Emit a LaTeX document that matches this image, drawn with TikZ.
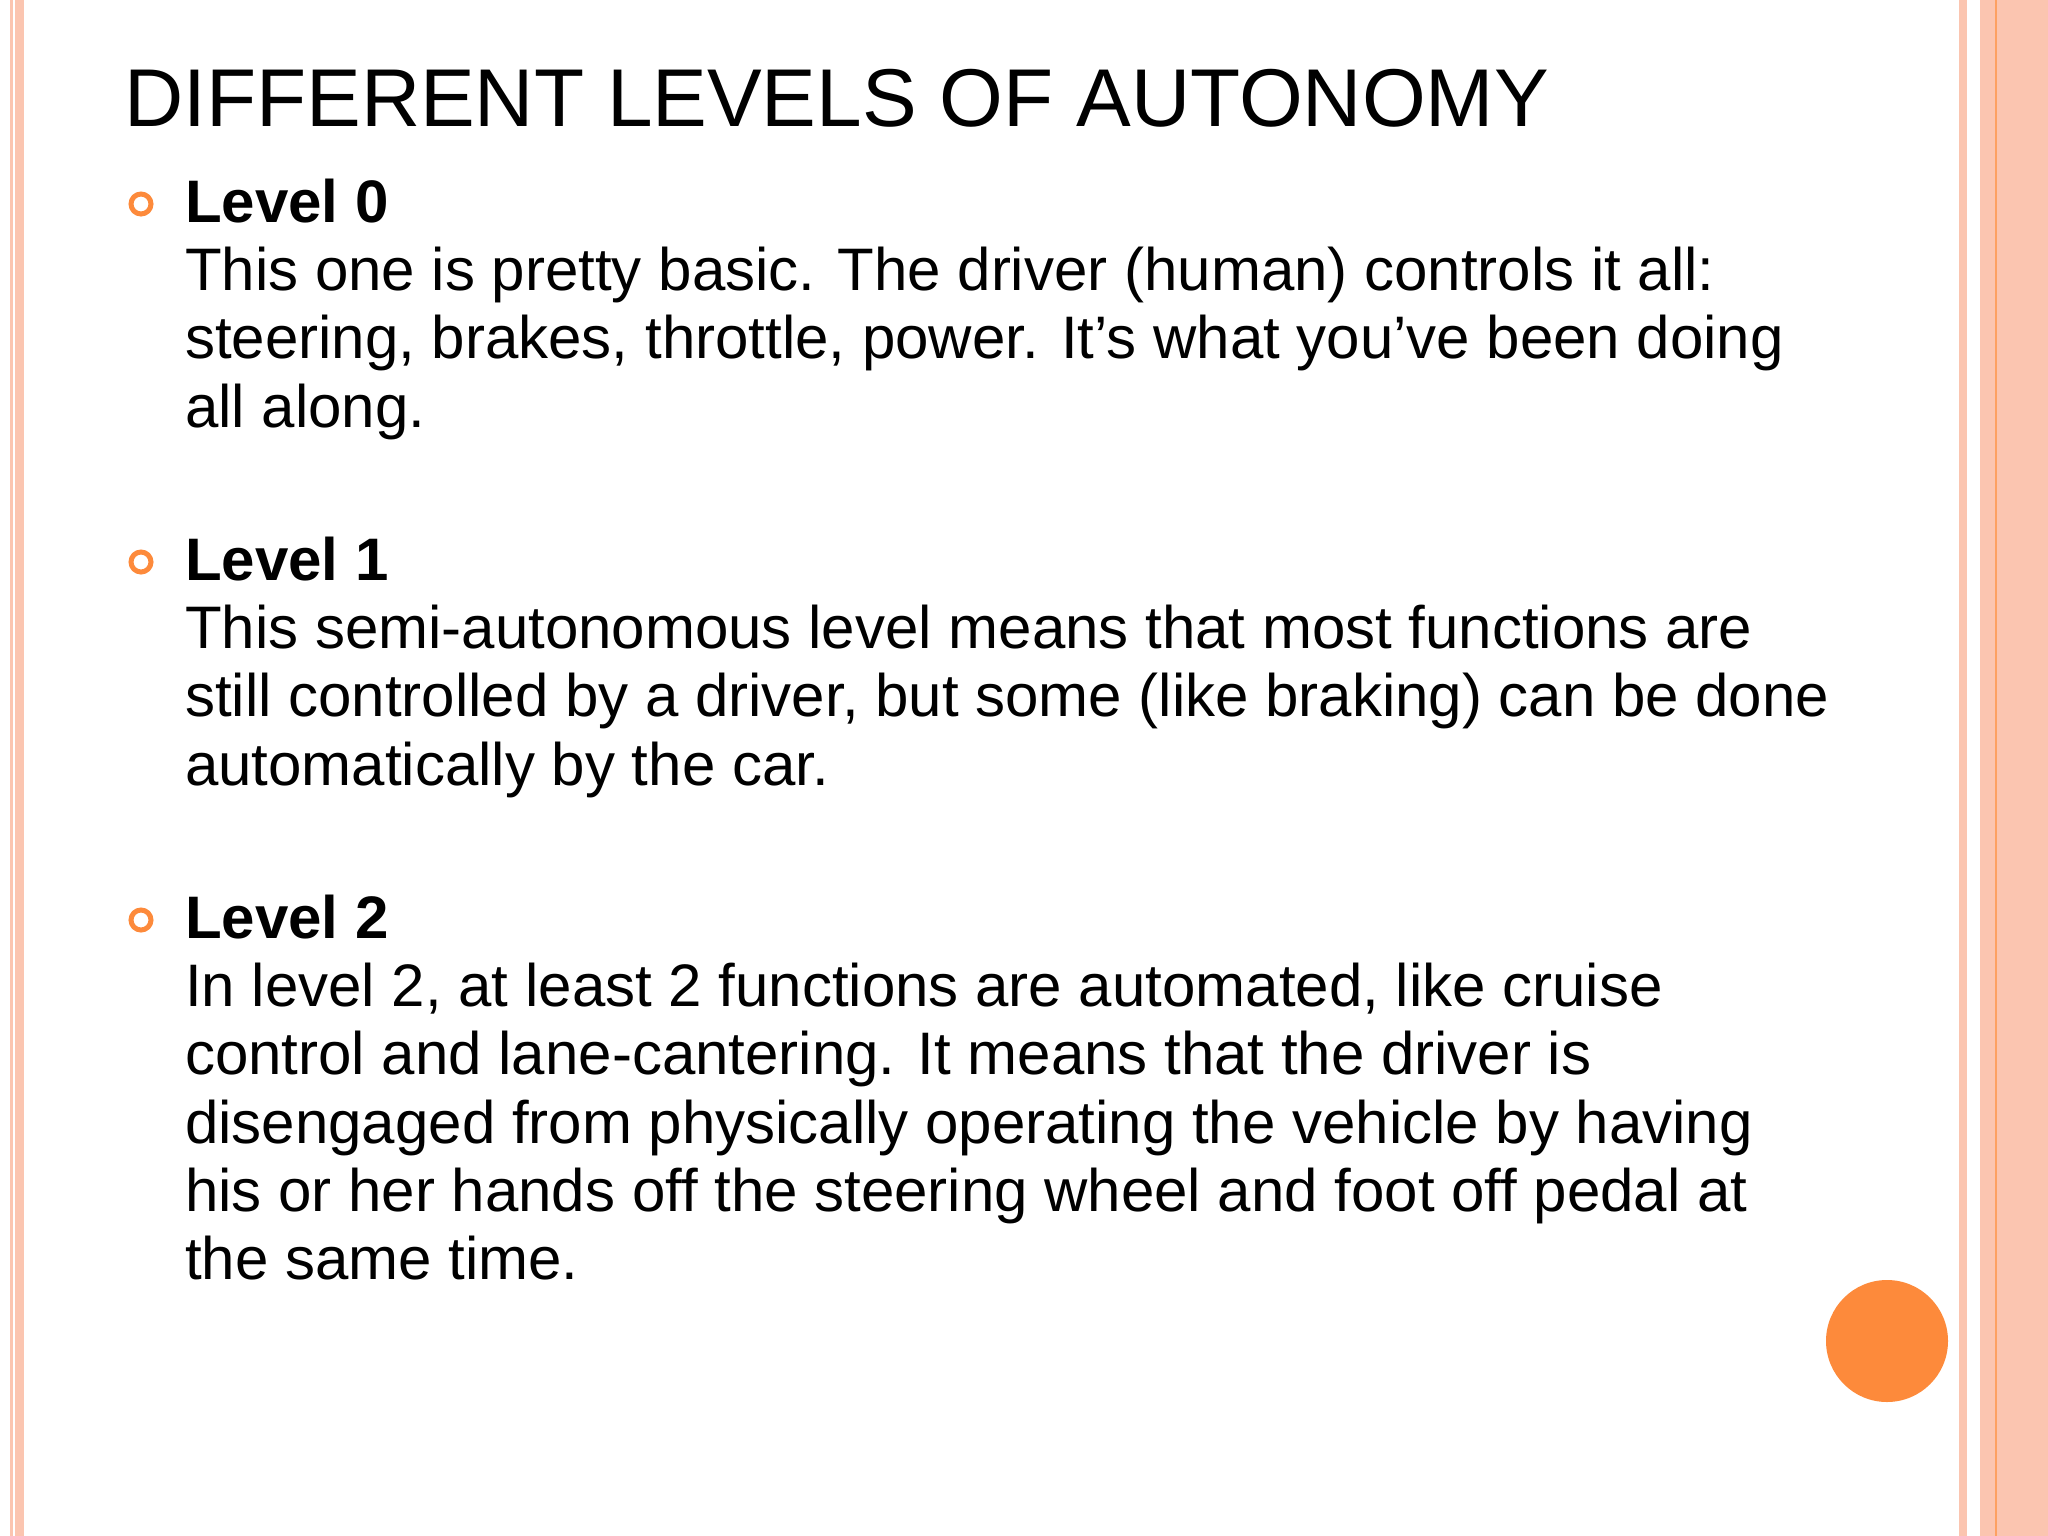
\documentclass[tikz,border=0pt]{standalone}
\usepackage{fontspec}
\setmainfont{Liberation Sans}
\begin{document}
\begin{tikzpicture}[x=1pt,y=-1pt,
  ln/.style={anchor=base west,inner sep=0pt,font=\fontsize{60}{68}\selectfont},
  hd/.style={ln,font=\fontsize{60}{68}\selectfont\bfseries},
  bul/.style={circle,draw=orange!90!red!80,line width=5pt,minimum size=20pt,inner sep=0pt}]
\definecolor{pk}{HTML}{FBC5B0}
\definecolor{pk2}{HTML}{F9C9B3}
\definecolor{org}{HTML}{FD8A3B}
\fill[white] (0,0) rectangle (2048,1536);
\fill[pk] (10,0) rectangle (13,1536);
\fill[pk] (15,0) rectangle (24,1536);
\fill[pk] (1959,0) rectangle (1967,1536);
\fill[pk] (1980,0) rectangle (2048,1536);
\fill[org!80] (1995,0) rectangle (1997,1536);
\fill[org] (1887,1341) circle (61);
\node[anchor=base west,inner sep=0pt,font=\fontsize{82}{90}\selectfont] (t) at (124,127) {DIFFERENT LEVELS OF AUTONOMY};
\foreach \y/\n in {204/a,562/b,920/c}{\node[bul,draw=org] (b\n) at (141,\y) {};}
\node[hd] (h0) at (185,222) {Level 0};
\node[ln] (l01) at (185,290) {This one is pretty basic. The driver (human) controls it all:};
\node[ln] (l02) at (185,358) {steering, brakes, throttle, power. It's what you've been doing};
\node[ln] (l03) at (185,427) {all along.};
\node[hd] (h1) at (185,580) {Level 1};
\node[ln] (l11) at (185,648) {This semi-autonomous level means that most functions are};
\node[ln] (l12) at (185,716) {still controlled by a driver, but some (like braking) can be done};
\node[ln] (l13) at (185,785) {automatically by the car.};
\node[hd] (h2) at (185,938) {Level 2};
\node[ln] (l21) at (185,1006) {In level 2, at least 2 functions are automated, like cruise};
\node[ln] (l22) at (185,1074) {control and lane-cantering. It means that the driver is};
\node[ln] (l23) at (185,1143) {disengaged from physically operating the vehicle by having};
\node[ln] (l24) at (185,1211) {his or her hands off the steering wheel and foot off pedal at};
\node[ln] (l25) at (185,1279) {the same time.};
\end{tikzpicture}
\end{document}
